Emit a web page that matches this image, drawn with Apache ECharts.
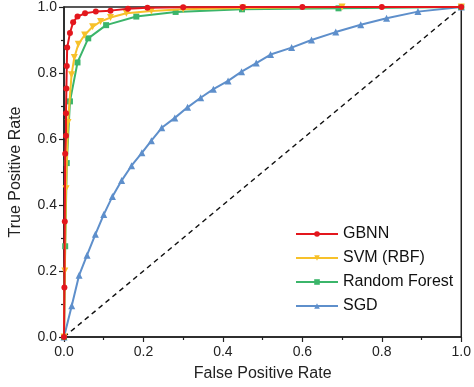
<!DOCTYPE html>
<html>
<head>
<meta charset="utf-8">
<script src="https://cdn.jsdelivr.net/npm/echarts@6/dist/echarts.min.js"></script>
<style>html,body{margin:0;padding:0;background:#fff}#c{width:474px;height:387px}</style>
</head>
<body>
<div id="c"></div>
<script>
var seriesNames = ['GBNN', 'SVM (RBF)', 'Random Forest', 'SGD'];
var xTicks = [0, 0.2, 0.4, 0.6, 0.8, 1.0];

var gbnnFpr = [0, 0.001, 0.002, 0.003, 0.005, 0.005, 0.006, 0.007, 0.008, 0.015, 0.023, 0.034, 0.053, 0.080, 0.117, 0.161, 0.21, 0.30, 0.45, 0.60, 0.80, 1.0];
var gbnnTpr = [0, 0.15, 0.35, 0.555, 0.610, 0.678, 0.753, 0.821, 0.877, 0.921, 0.954, 0.971, 0.981, 0.986, 0.989, 0.995, 0.998, 0.999, 1.0, 1.0, 1.0, 1.0];

var svmFpr = [0, 0.002, 0.005, 0.010, 0.019, 0.026, 0.036, 0.052, 0.072, 0.092, 0.117, 0.157, 0.22, 0.30, 0.45, 0.70, 1.0];
var svmTpr = [0, 0.20, 0.449, 0.65, 0.795, 0.847, 0.887, 0.915, 0.940, 0.956, 0.968, 0.981, 0.988, 0.993, 0.997, 1.0, 1.0];

var rfFpr = [0, 0.003, 0.007, 0.015, 0.034, 0.061, 0.106, 0.182, 0.281, 0.448, 0.691, 1.0];
var rfTpr = [0, 0.275, 0.527, 0.714, 0.832, 0.905, 0.945, 0.971, 0.985, 0.993, 0.996, 1.0];

var sgdFpr = [0, 0.0195, 0.038, 0.058, 0.079, 0.100, 0.122, 0.145, 0.170, 0.196, 0.220, 0.246, 0.279, 0.311, 0.344, 0.376, 0.413, 0.447, 0.484, 0.520, 0.573, 0.623, 0.684, 0.747, 0.812, 0.891, 1.0];
var sgdTpr = [0, 0.095, 0.187, 0.248, 0.311, 0.371, 0.426, 0.474, 0.519, 0.558, 0.595, 0.634, 0.664, 0.696, 0.725, 0.751, 0.776, 0.804, 0.830, 0.856, 0.877, 0.900, 0.924, 0.946, 0.966, 0.986, 1.0];

var chanceFpr = [0, 1];
var chanceTpr = [0, 1];

function pairs(xs, ys) { return xs.map(function (x, i) { return [x, ys[i]]; }); }

var FONT = '"Liberation Sans", Arial, sans-serif';
var chart = echarts.init(document.getElementById('c'), null, { renderer: 'canvas' });

function axis(name, isY) {
  return {
    type: 'value', min: 0, max: 1, interval: 0.2,
    name: name, nameLocation: 'middle', nameGap: isY ? 40 : 29,
    nameTextStyle: { fontFamily: FONT, fontSize: 16, color: '#222' },
    axisLine: { show: true, onZero: false, lineStyle: { color: '#222', width: 1.5 } },
    axisTick: { show: true, inside: false, length: 5, lineStyle: { color: '#222', width: 1.2 } },
    minorTick: { show: true, splitNumber: 2, length: 3, lineStyle: { color: '#222', width: 1.2 } },
    splitLine: { show: false },
    axisLabel: {
      fontFamily: FONT, fontSize: 14, color: '#222', margin: isY ? 7 : 8,
      formatter: function (v) { return v.toFixed(1); }
    }
  };
}

chart.setOption({
  animation: false,
  backgroundColor: '#fff',
  grid: { left: 52, right: 10, top: 6, bottom: 50, show: true, borderColor: '#222', borderWidth: 1.5, backgroundColor: 'transparent' },
  xAxis: axis('False Positive Rate', false),
  yAxis: axis('True Positive Rate', true),
  legend: {
    data: seriesNames, orient: 'vertical', left: 290, top: 221,
    itemWidth: 42, itemHeight: 7, itemGap: 8,
    textStyle: { fontFamily: FONT, fontSize: 16, color: '#111' }
  },
  series: [
    { name: 'chance', type: 'line', data: pairs(chanceFpr, chanceTpr), symbol: 'none', silent: true,
      lineStyle: { color: '#111', width: 1.5, type: [5, 4] }, z: 1 },
    { name: 'SGD', type: 'line', data: pairs(sgdFpr, sgdTpr), symbol: 'triangle', symbolSize: 7,
      itemStyle: { color: '#5E8FCB' }, lineStyle: { width: 2, color: '#5E8FCB' }, z: 2 },
    { name: 'Random Forest', type: 'line', data: pairs(rfFpr, rfTpr), symbol: 'rect', symbolSize: 6,
      itemStyle: { color: '#3BB56A' }, lineStyle: { width: 2, color: '#3BB56A' }, z: 3 },
    { name: 'SVM (RBF)', type: 'line', data: pairs(svmFpr, svmTpr), symbol: 'triangle', symbolRotate: 180, symbolSize: 7,
      itemStyle: { color: '#F7C12A' }, lineStyle: { width: 2, color: '#F7C12A' }, z: 4 },
    { name: 'GBNN', type: 'line', data: pairs(gbnnFpr, gbnnTpr), symbol: 'circle', symbolSize: 6,
      itemStyle: { color: '#E3171D' }, lineStyle: { width: 2, color: '#E3171D' }, z: 5 }
  ]
});
</script>
</body>
</html>
